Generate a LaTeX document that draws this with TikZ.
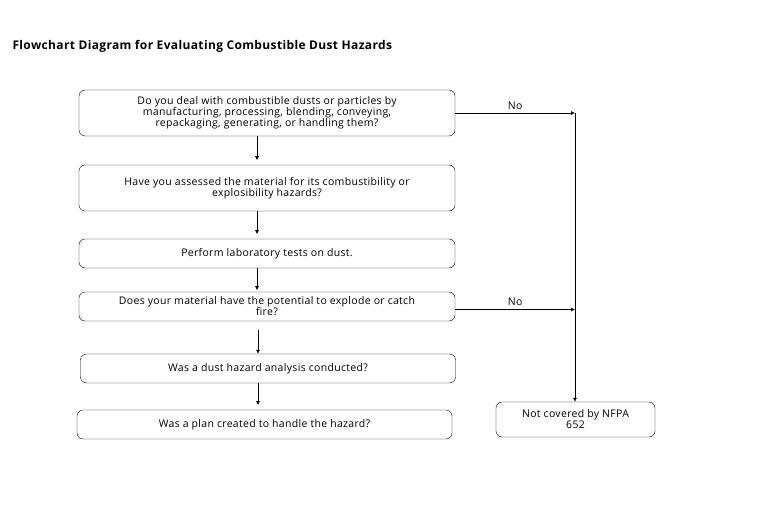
\documentclass[tikz,border=0pt]{standalone}
\usepackage{fontspec}
\setmainfont{Open Sans}[LetterSpace=3]
\usetikzlibrary{positioning, arrows.meta, calc}
\tikzset{
  stage/.style={draw, rounded corners=6pt, align=center, inner sep=2pt,
    font=\fontsize{10.5}{11}\selectfont},
  flow/.style={-{Latex[length=4pt,width=4pt]}, semithick},
  lbl/.style={font=\fontsize{10.5}{11}\selectfont}
}
\begin{document}
\begin{tikzpicture}[x=1pt, y=-1pt]
 \useasboundingbox (0,0) rectangle (768,513);
 \node[anchor=west, font=\bfseries\fontsize{12}{14}\selectfont] (title) at (9,46)
 {Flowchart Diagram for Evaluating Combustible Dust Hazards};
 \node[stage, minimum width=376pt, minimum height=46pt] (q1) at (267,113)
 {Do you deal with combustible dusts or particles by\\ manufacturing, processing, blending, conveying,\\ repackaging, generating, or handling them?};
 \node[stage, minimum width=376pt, minimum height=46pt] (q2) at (267,188)
 {Have you assessed the material for its combustibility or\\ explosibility hazards?};
 \node[stage, minimum width=376pt, minimum height=29pt] (t1) at (267,253.5)
 {Perform laboratory tests on dust.};
 \node[stage, minimum width=376pt, minimum height=29pt, inner sep=0pt, yshift=3pt] (q3) at (267,309.5)
 {Does your material have the potential to explode or catch\\ fire?};
 \node[stage, minimum width=375pt, minimum height=29pt] (q4) at (268,368.5)
 {Was a dust hazard analysis conducted?};
 \node[stage, minimum width=375pt, minimum height=29pt] (q5) at (264.5,424.5)
 {Was a plan created to handle the hazard?};
 \node[stage, minimum width=159pt, minimum height=35pt] (nc) at (575.5,419.5)
 {Not covered by NFPA\\652};
 \coordinate (j1) at (575,113);
 \coordinate (j2) at (575,309.5);
 \draw[flow] ([xshift=-10pt]q1.south) -- ++(0,24);
 \draw[flow] ([xshift=-10pt]q2.south) -- ++(0,23);
 \draw[flow] ([xshift=-10pt]t1.south) -- ++(0,22);
 \draw[flow] ([xshift=-10pt]q4.north) ++(0,-24) -- ([xshift=-10pt]q4.north);
 \draw[flow] ([xshift=-10pt]q4.south) -- ++(0,22);
 \draw[flow] (q1.east) -- node[lbl, above] {No} (j1);
 \draw[flow] (j2 -| q1.east) -- node[lbl, above] {No} (j2);
 \draw[flow] (j1) -- (nc.north -| j1);
\end{tikzpicture}
\end{document}
